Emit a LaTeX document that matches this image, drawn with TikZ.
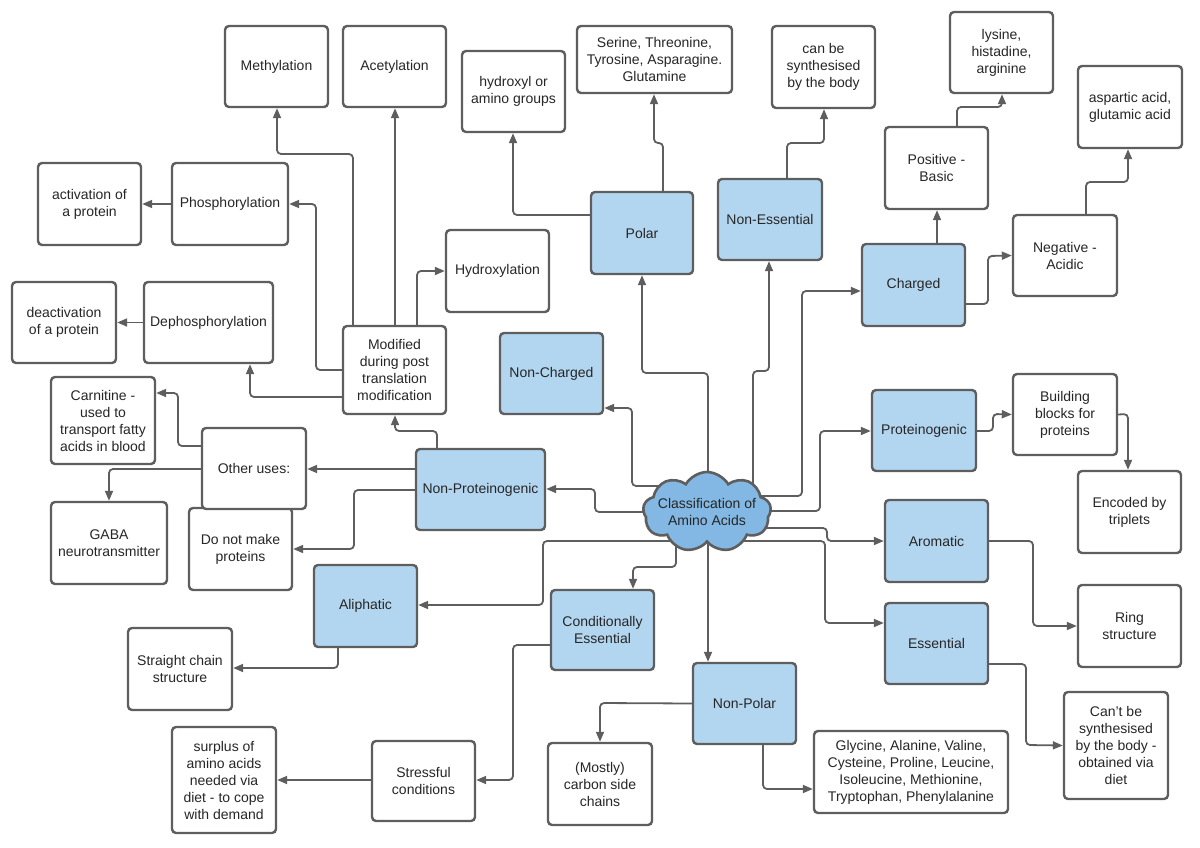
\documentclass[tikz,border=0pt]{standalone}
\usepackage{fontspec}
\setmainfont{Liberation Sans}
\usetikzlibrary{shapes.symbols,arrows.meta,backgrounds}
\definecolor{edge}{HTML}{5E5E5E}
\definecolor{bluebox}{HTML}{B3D6F0}
\definecolor{bluecloud}{HTML}{82B8E3}
\definecolor{txt}{HTML}{262626}
\tikzset{
  base/.style={draw=edge, line width=2.4pt, rounded corners=4pt, align=center, inner sep=2pt,
    text=txt, font=\fontsize{14}{17}\selectfont},
  wbox/.style={base, fill=white},
  bbox/.style={base, fill=bluebox},
  conn/.style={draw=edge, line width=1.8pt, rounded corners=4pt, -{Triangle[length=10pt,width=8pt]}},
}
\newcommand{\bx}[7]{\node[#1, minimum width=#5pt, minimum height=#6pt] (#2) at (#3,#4) {#7};}
\begin{document}
\begin{tikzpicture}[x=1pt,y=-1pt]
\useasboundingbox (0,0) rectangle (1200,848);
% boxes
\bx{wbox}{act}{89.5}{204}{103}{82}{activation of\\a protein}
\bx{wbox}{phos}{230}{204}{116}{82}{Phosphorylation}
\bx{wbox}{deact}{64}{322.5}{104}{81}{deactivation\\of a protein}
\bx{wbox}{deph}{208.5}{322.5}{129}{81}{Dephosphorylation}
\bx{wbox}{carn}{103}{420.5}{104}{87}{Carnitine -\\used to\\transport fatty\\acids in blood}
\bx{wbox}{mod}{394.5}{370}{103}{88}{Modified\\during post\\translation\\modification}
\bx{wbox}{donot}{240.5}{549}{103}{82}{Do not make\\proteins}
\bx{wbox}{other}{254}{468.5}{104}{81}{Other uses:}
\bx{wbox}{hydrox}{497.5}{271}{103}{82}{Hydroxylation}
\bx{wbox}{meth}{276.5}{66.5}{103}{81}{Methylation}
\bx{wbox}{acet}{394.5}{66.5}{103}{81}{Acetylation}
\bx{wbox}{hydgrp}{513.5}{91.5}{103}{81}{hydroxyl or\\amino groups}
\bx{wbox}{serine}{654.5}{59.5}{155}{67}{Serine, Threonine,\\Tyrosine, Asparagine.\\Glutamine}
\bx{wbox}{canbe}{823.5}{67}{103}{82}{can be\\synthesised\\by the body}
\bx{bbox}{polar}{642}{233}{102}{82}{Polar}
\bx{bbox}{noness}{770}{219.5}{104}{81}{Non-Essential}
\bx{wbox}{lysine}{1001.5}{52.5}{103}{81}{lysine,\\histadine,\\arginine}
\bx{wbox}{aspartic}{1130}{107}{104}{82}{aspartic acid,\\glutamic acid}
\bx{wbox}{pos}{936.5}{168}{103}{82}{Positive -\\Basic}
\bx{wbox}{neg}{1065}{255.5}{104}{81}{Negative -\\Acidic}
\bx{bbox}{charged}{913.5}{285}{103}{82}{Charged}
\bx{bbox}{noncharged}{551.5}{373.5}{103}{81}{Non-Charged}
\bx{bbox}{nonprot}{480.5}{489.5}{129}{81}{Non-Proteinogenic}
\bx{bbox}{aliph}{365.5}{606}{103}{82}{Aliphatic}
\bx{wbox}{straight}{180}{669}{104}{82}{Straight chain\\structure}
\bx{wbox}{gaba}{109}{543}{116}{82}{GABA\\neurotransmitter}
\bx{bbox}{cond}{602.5}{630}{103}{80}{Conditionally\\Essential}
\bx{wbox}{surplus}{224}{780}{104}{106}{surplus of\\amino acids\\needed via\\diet - to cope\\with demand}
\bx{wbox}{stress}{423.5}{781}{103}{80}{Stressful\\conditions}
\bx{wbox}{mostly}{600}{784}{104}{82}{(Mostly)\\carbon side\\chains}
\bx{bbox}{prot}{924}{430.5}{104}{81}{Proteinogenic}
\bx{wbox}{build}{1065}{414.5}{104}{81}{Building\\blocks for\\proteins}
\bx{wbox}{encoded}{1129.5}{512}{103}{82}{Encoded by\\triplets}
\bx{bbox}{arom}{936.5}{541}{103}{82}{Aromatic}
\bx{wbox}{ring}{1129.5}{626}{103}{82}{Ring\\structure}
\bx{bbox}{ess}{936.5}{643.5}{103}{81}{Essential}
\bx{wbox}{cant}{1116}{745.5}{104}{107}{Can't be\\synthesised\\by the body -\\obtained via\\diet}
\bx{bbox}{nonpolar}{744.5}{703.5}{103}{81}{Non-Polar}
\bx{wbox}{glycine}{911}{772}{194}{82}{Glycine, Alanine, Valine,\\Cysteine, Proline, Leucine,\\Isoleucine, Methionine,\\Tryptophan, Phenylalanine}
% cloud
\node[cloud, cloud puffs=9, cloud puff arc=120, cloud ignores aspect, draw=edge, line width=2.6pt, fill=bluecloud,
  minimum width=128pt, minimum height=80pt, inner sep=0pt] (cloud) at (707,512) {};
\node[align=center, text=txt, font=\fontsize{14}{17}\selectfont, inner sep=0pt] (cloudtxt) at (cloud.center) {Classification of\\Amino Acids};
\begin{pgfonlayer}{background}
% from cloud
\draw[conn] (cloud.center |- 0,486) -- (632,486) -- (632,408) -- (noncharged.east |- 0,408);
\draw[conn] (cloud.center -| 708,0) -- (708,373) -- (642,373) -- (polar.south);
\draw[conn] (cloud.center -| 753,0) -- (753,371) -- (769,371) -- (noness.south -| 769,0);
\draw[conn] (cloud.center |- 0,496) -- (802,496) -- (802,291) -- (charged.west |- 0,291);
\draw[conn] (cloud.center |- 0,511) -- (820,511) -- (820,431) -- (prot.west |- 0,431);
\draw[conn] (cloud.center |- 0,528) -- (827,528) -- (827,541) -- (arom.west);
\draw[conn] (cloud.center |- 0,541) -- (825,541) -- (825,623) -- (ess.west |- 0,623);
\draw[conn] (cloud.center -| 708,0) -- (nonpolar.north -| 708,0);
\draw[conn] (cloud.center -| 676,0) -- (676,567) -- (633,567) -- (cond.north -| 633,0);
\draw[conn] (cloud.center |- 0,541) -- (543,541) -- (543,605) -- (aliph.east |- 0,605);
\draw[conn] (cloud.center |- 0,512) -- (595,512) -- (595,489) -- (nonprot.east |- 0,489);
% non-proteinogenic
\draw[conn] (nonprot.west |- 0,469) -- (other.east |- 0,469);
\draw[conn] (nonprot.west |- 0,490) -- (354,490) -- (354,549) -- (donot.east |- 0,549);
\draw[conn] (nonprot.north -| 437,0) -- (437,431) -- (395,431) -- (mod.south -| 395,0);
% modified
\draw[conn] (mod.west |- 0,370) -- (316,370) -- (316,204) -- (phos.east);
\draw[conn] (mod.west |- 0,397) -- (250,397) -- (deph.south -| 250,0);
\draw[conn] (mod.north -| 353,0) -- (353,154) -- (277,154) -- (meth.south -| 277,0);
\draw[conn] (mod.north -| 395,0) -- (acet.south -| 395,0);
\draw[conn] (mod.north -| 417,0) -- (417,271) -- (hydrox.west);
\draw[conn] (phos.west) -- (act.east);
\draw[conn] (deph.west) -- (deact.east);
% other uses
\draw[conn] (other.west |- 0,446) -- (178,446) -- (178,393) -- (carn.east |- 0,393);
\draw[conn] (other.west |- 0,469) -- (109,469) -- (gaba.north -| 109,0);
% polar, non-essential
\draw[conn] (polar.west |- 0,215) -- (513,215) -- (hydgrp.south -| 513,0);
\draw[conn] (polar.north -| 663,0) -- (663,143) -- (654,143) -- (serine.south -| 654,0);
\draw[conn] (noness.north -| 787,0) -- (787,143) -- (824,143) -- (canbe.south -| 824,0);
% charged
\draw[conn] (charged.north -| 937,0) -- (pos.south -| 937,0);
\draw[conn] (charged.east |- 0,304) -- (988,304) -- (988,256) -- (neg.west);
\draw[conn] (pos.north -| 957,0) -- (957,107) -- (1002,107) -- (lysine.south -| 1002,0);
\draw[conn] (neg.north -| 1086,0) -- (1086,182) -- (1128,182) -- (aspartic.south -| 1128,0);
% right side
\draw[conn] (prot.east |- 0,431) -- (993,431) -- (993,414) -- (build.west);
\draw[conn] (build.east) -- (1128,414) -- (encoded.north -| 1128,0);
\draw[conn] (arom.east) -- (1033,541) -- (1033,626) -- (ring.west);
\draw[conn] (ess.east |- 0,664) -- (1026,664) -- (1026,745) -- (cant.west);
% bottom
\draw[conn] (nonpolar.south -| 763,0) -- (763,789) -- (glycine.west |- 0,789);
\draw[conn] (nonpolar.west) -- (600,703) -- (mostly.north -| 600,0);
\draw[conn] (cond.west |- 0,645) -- (513,645) -- (513,780) -- (stress.east |- 0,780);
\draw[conn] (stress.west |- 0,780) -- (surplus.east |- 0,780);
\draw[conn] (aliph.south -| 338,0) -- (338,668) -- (straight.east |- 0,668);
\end{pgfonlayer}
\end{tikzpicture}
\end{document}
